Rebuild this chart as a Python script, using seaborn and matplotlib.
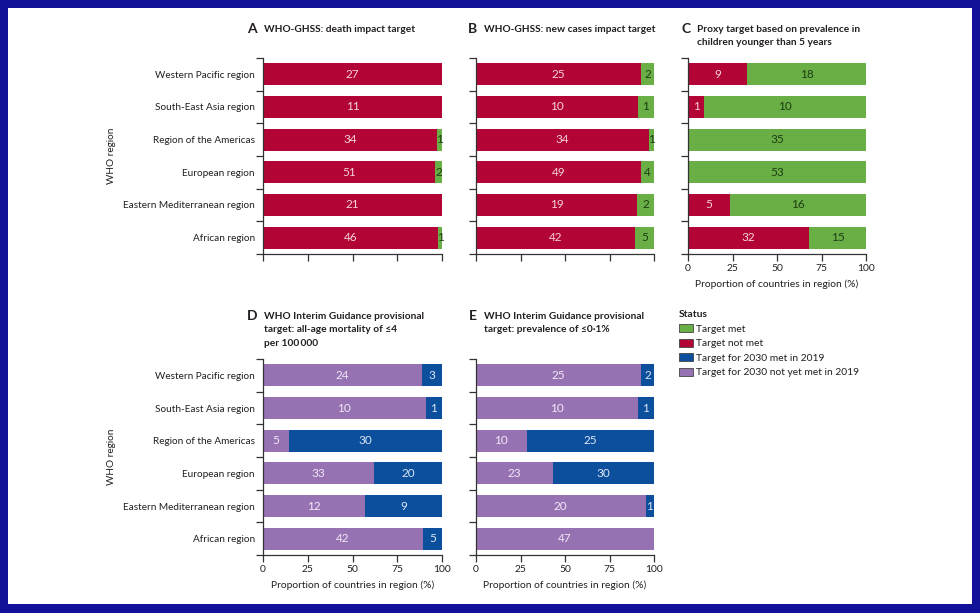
import numpy as np
import pandas as pd
import seaborn as sns
import matplotlib.pyplot as plt
from matplotlib.patches import Patch, Rectangle

regions = ['Western Pacific region', 'South-East Asia region', 'Region of the Americas',
           'European region', 'Eastern Mediterranean region', 'African region']

# counts of countries per region (first segment, second segment)
a_not_met = [27, 11, 34, 51, 21, 46]
a_met = [0, 0, 1, 2, 0, 1]
b_not_met = [25, 10, 34, 49, 19, 42]
b_met = [2, 1, 1, 4, 2, 5]
c_not_met = [9, 1, 0, 0, 5, 32]
c_met = [18, 10, 35, 53, 16, 15]
d_not_yet = [24, 10, 5, 33, 12, 42]
d_met_2019 = [3, 1, 30, 20, 9, 5]
e_not_yet = [25, 10, 10, 23, 20, 47]
e_met_2019 = [2, 1, 25, 30, 1, 0]

x_ticks = [0, 25, 50, 75, 100]
x_title = 'Proportion of countries in region (%)'

GREEN = '#6aaf45'
RED = '#b20435'
BLUE = '#0c4f9c'
PURPLE = '#9672b3'
TXT = '#231f20'

sns.set_style('ticks')
plt.rcParams['font.family'] = ['Lato', 'DejaVu Sans']
plt.rcParams['text.color'] = TXT
plt.rcParams['axes.labelcolor'] = TXT
plt.rcParams['xtick.color'] = '#333333'
plt.rcParams['ytick.color'] = '#333333'
plt.rcParams['xtick.labelcolor'] = TXT
plt.rcParams['ytick.labelcolor'] = TXT
plt.rcParams['axes.edgecolor'] = '#333333'

W, H = 980, 613
fig = plt.figure(figsize=(W / 100, H / 100), dpi=100, facecolor='#11119a')
fig.add_artist(Rectangle((8 / W, 9 / H), 964 / W, 596 / H, transform=fig.transFigure,
                         facecolor='white', edgecolor='none', zorder=-10))


def box(left, right, top, bottom):
    return [left / W, 1 - bottom / H, (right - left) / W, (bottom - top) / H]


def panel(ax, first, second, c1, c2, t1, t2, show_y, show_x):
    df = pd.DataFrame({'region': regions, 'first': first, 'second': second})
    total = df['first'] + df['second']
    df['p1'] = df['first'] / total * 100
    df['p2'] = df['second'] / total * 100
    df['cum'] = df['p1'] + df['p2']
    # stacked bars: full bar in second colour, first segment drawn over it
    sns.barplot(data=df, x='cum', y='region', color=c2, width=0.68, saturation=1,
                linewidth=0, ax=ax, orient='h')
    sns.barplot(data=df, x='p1', y='region', color=c1, width=0.68, saturation=1,
                linewidth=0, ax=ax, orient='h')
    for i, row in df.iterrows():
        if row['first'] > 0:
            ax.text(row['p1'] / 2, i, str(row['first']), ha='center', va='center',
                    color=t1, fontsize=8.5)
        if row['second'] > 0:
            ax.text(row['p1'] + row['p2'] / 2, i, str(row['second']), ha='center',
                    va='center', color=t2, fontsize=8.5)
    ax.set_xlim(0, 100)
    ax.set_xticks(x_ticks)
    ax.set_yticks(np.arange(-0.5, len(regions), 1), minor=True)
    ax.tick_params(axis='y', which='major', length=0, pad=6, labelsize=7.2)
    ax.tick_params(axis='y', which='minor', length=5, width=0.9)
    ax.tick_params(axis='x', length=5, width=0.9, pad=2, labelsize=7.4)
    sns.despine(ax=ax)
    for s in ['left', 'bottom']:
        ax.spines[s].set_linewidth(0.9)
    if show_y:
        ax.set_ylabel('WHO region', fontsize=7.2)
        ax.yaxis.set_label_coords(-0.82, 0.5)
    else:
        ax.set_ylabel('')
        ax.set_yticklabels([])
    if show_x:
        ax.set_xticklabels([str(t) for t in x_ticks])
        ax.set_xlabel(x_title, fontsize=7.4, labelpad=5)
    else:
        ax.set_xticklabels([])
        ax.set_xlabel('')


axA = fig.add_axes(box(263, 442, 58, 254))
axB = fig.add_axes(box(476, 654, 58, 254))
axC = fig.add_axes(box(688, 866, 58, 254))
axD = fig.add_axes(box(263, 442, 359, 555))
axE = fig.add_axes(box(476, 654, 359, 555))

panel(axA, a_not_met, a_met, RED, GREEN, '#f6d3dc', '#1e3d12', True, False)
panel(axB, b_not_met, b_met, RED, GREEN, '#f6d3dc', '#1e3d12', False, False)
panel(axC, c_not_met, c_met, RED, GREEN, '#f6d3dc', '#1e3d12', False, True)
panel(axD, d_not_yet, d_met_2019, PURPLE, BLUE, '#f1e8f7', '#dce6f5', True, True)
panel(axE, e_not_yet, e_met_2019, PURPLE, BLUE, '#f1e8f7', '#dce6f5', False, True)

titles = [
    ('A', 247, 264, 25, 'WHO-GHSS: death impact target'),
    ('B', 468, 484, 25, 'WHO-GHSS: new cases impact target'),
    ('C', 681, 697, 25, 'Proxy target based on prevalence in\nchildren younger than 5 years'),
    ('D', 247, 264, 312, 'WHO Interim Guidance provisional\ntarget: all-age mortality of \u22644\nper 100\u2009000'),
    ('E', 469, 484, 312, 'WHO Interim Guidance provisional\ntarget: prevalence of \u22640\u00b71%'),
]
for letter, lx, tx, ty, text in titles:
    fig.text(lx / W, 1 - (ty - 2) / H, letter, fontsize=10, fontweight='bold', va='top')
    fig.text(tx / W, 1 - ty / H, text, fontsize=7.3, fontweight='bold', va='top',
             linespacing=1.62)

handles = [Patch(facecolor=GREEN, edgecolor='#444444', linewidth=0.6, label='Target met'),
           Patch(facecolor=RED, edgecolor='#444444', linewidth=0.6, label='Target not met'),
           Patch(facecolor=BLUE, edgecolor='#444444', linewidth=0.6, label='Target for 2030 met in 2019'),
           Patch(facecolor=PURPLE, edgecolor='#444444', linewidth=0.6, label='Target for 2030 not yet met in 2019')]
leg = fig.legend(handles=handles, title='Status', loc='upper left',
                 bbox_to_anchor=(679 / W, 1 - 310 / H), frameon=False, fontsize=7.4,
                 title_fontproperties={'size': 7.4, 'weight': 'bold'}, alignment='left',
                 handlelength=1.35, handleheight=0.85, handletextpad=0.35,
                 labelspacing=0.48, borderpad=0, borderaxespad=0)

fig.savefig('out.png', dpi=100, facecolor=fig.get_facecolor())
